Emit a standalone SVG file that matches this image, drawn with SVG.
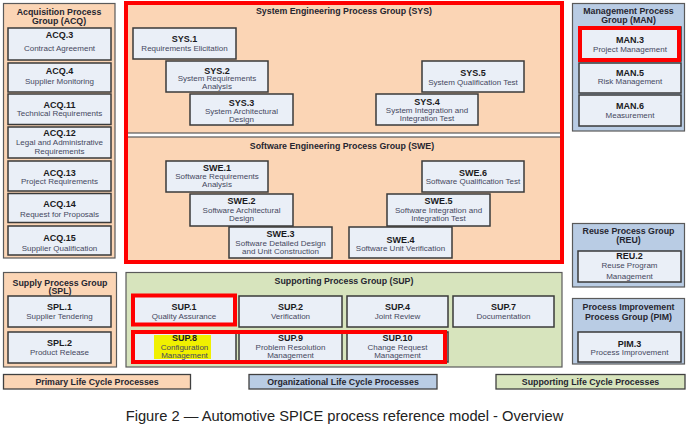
<svg xmlns="http://www.w3.org/2000/svg" width="690" height="427" viewBox="0 0 690 427">
<style>
  text { font-family: "Liberation Sans", Arial, sans-serif; text-anchor: middle; }
  .peach { fill: #FBD5B5; stroke: #5A5A5A; stroke-width: 1.2; }
  .blue { fill: #B9CCE4; stroke: #5A5A5A; stroke-width: 1.2; }
  .green { fill: #D7E4BD; stroke: #5A5A5A; stroke-width: 1.2; }
  .box { fill: #EAEFF7; stroke: #3A3A3A; stroke-width: 1.5; }
  .hl { fill: none; stroke: #FF0000; stroke-width: 4; }
  .leg { stroke: #404040; stroke-width: 1.3; }
  .t { font-size: 8.8px; font-weight: bold; fill: #262630; }
  .id { font-size: 9px; font-weight: bold; fill: #1A1A22; }
  .d { font-size: 8px; fill: #454860; }
  .cap { font-size: 14.7px; fill: #222222; }
</style>

<!-- Acquisition group -->
<g id="acq">
  <rect class="peach" x="3.5" y="3.5" width="111.5" height="254.5"/>
  <text class="t" x="59" y="14.5">Acquisition Process</text>
  <text class="t" x="59" y="23.5">Group (ACQ)</text>
</g>
<g id="acq3"><rect class="box" x="8" y="28" width="103" height="32"/><text class="id" x="59.5" y="37.5">ACQ.3</text><text class="d" x="59.5" y="50.5">Contract Agreement</text></g>
<g id="acq4"><rect class="box" x="8" y="63" width="103" height="29"/><text class="id" x="59.5" y="74">ACQ.4</text><text class="d" x="59.5" y="84">Supplier Monitoring</text></g>
<g id="acq11"><rect class="box" x="8" y="94" width="103" height="30.5"/><text class="id" x="59.5" y="107.5">ACQ.11</text><text class="d" x="59.5" y="116">Technical Requirements</text></g>
<g id="acq12"><rect class="box" x="8" y="127" width="103" height="31"/><text class="id" x="59.5" y="135.5">ACQ.12</text><text class="d" x="59.5" y="145">Legal and Administrative</text><text class="d" x="59.5" y="153.5">Requirements</text></g>
<g id="acq13"><rect class="box" x="8" y="161" width="103" height="30"/><text class="id" x="59.5" y="175.5">ACQ.13</text><text class="d" x="59.5" y="184">Project Requirements</text></g>
<g id="acq14"><rect class="box" x="8" y="193.5" width="103" height="29"/><text class="id" x="59.5" y="206.5">ACQ.14</text><text class="d" x="59.5" y="216.5">Request for Proposals</text></g>
<g id="acq15"><rect class="box" x="8" y="226" width="103" height="29"/><text class="id" x="59.5" y="240.5">ACQ.15</text><text class="d" x="59.5" y="251">Supplier Qualification</text></g>

<!-- System Engineering group -->
<g id="sys">
  <rect class="peach" x="126" y="3" width="436" height="130"/>
  <text class="t" x="344" y="14">System Engineering Process Group (SYS)</text>
</g>
<g id="sys1"><rect class="box" x="133" y="28" width="103" height="31"/><text class="id" x="184.5" y="41.5">SYS.1</text><text class="d" x="184.5" y="50.5">Requirements Elicitation</text></g>
<g id="sys2"><rect class="box" x="166" y="61" width="102" height="31"/><text class="id" x="217" y="73.5">SYS.2</text><text class="d" x="217" y="81">System Requirements</text><text class="d" x="217" y="88.5">Analysis</text></g>
<g id="sys3"><rect class="box" x="190" y="94" width="103" height="31"/><text class="id" x="241.5" y="105.5">SYS.3</text><text class="d" x="241.5" y="113.5">System Architectural</text><text class="d" x="241.5" y="121.5">Design</text></g>
<g id="sys5"><rect class="box" x="422" y="61" width="102" height="31"/><text class="id" x="473" y="76">SYS.5</text><text class="d" x="473" y="84.5">System Qualification Test</text></g>
<g id="sys4"><rect class="box" x="376" y="94" width="102" height="31"/><text class="id" x="427" y="104.5">SYS.4</text><text class="d" x="427" y="113">System Integration and</text><text class="d" x="427" y="121">Integration Test</text></g>

<!-- Software Engineering group -->
<g id="swe">
  <rect class="peach" x="126" y="137" width="436" height="125"/>
  <text class="t" x="342" y="148.5">Software Engineering Process Group (SWE)</text>
</g>
<g id="swe1"><rect class="box" x="166" y="161" width="102" height="31"/><text class="id" x="217" y="170.5">SWE.1</text><text class="d" x="217" y="179">Software Requirements</text><text class="d" x="217" y="187">Analysis</text></g>
<g id="swe2"><rect class="box" x="190" y="194" width="103" height="32"/><text class="id" x="241.5" y="204">SWE.2</text><text class="d" x="241.5" y="212.5">Software Architectural</text><text class="d" x="241.5" y="221">Design</text></g>
<g id="swe3"><rect class="box" x="229" y="227" width="103" height="31"/><text class="id" x="280.5" y="237">SWE.3</text><text class="d" x="280.5" y="245.5">Software Detailed Design</text><text class="d" x="280.5" y="254">and Unit Construction</text></g>
<g id="swe6"><rect class="box" x="422" y="161" width="102" height="31"/><text class="id" x="473" y="176">SWE.6</text><text class="d" x="473" y="184">Software Qualification Test</text></g>
<g id="swe5"><rect class="box" x="387" y="194" width="103" height="32"/><text class="id" x="438.5" y="204">SWE.5</text><text class="d" x="438.5" y="212.5">Software Integration and</text><text class="d" x="438.5" y="221">Integration Test</text></g>
<g id="swe4"><rect class="box" x="349" y="227" width="103" height="31"/><text class="id" x="400.5" y="242.5">SWE.4</text><text class="d" x="400.5" y="250.5">Software Unit Verification</text></g>

<!-- Management group -->
<g id="man">
  <rect class="blue" x="572.5" y="3.5" width="112" height="127.5"/>
  <text class="t" x="628.5" y="14">Management Process</text>
  <text class="t" x="628.5" y="23">Group (MAN)</text>
</g>
<g id="man3"><rect class="box" x="579" y="27" width="102" height="34"/><text class="id" x="630" y="43">MAN.3</text><text class="d" x="630" y="51.5">Project Management</text></g>
<g id="man5"><rect class="box" x="579" y="63" width="102" height="30"/><text class="id" x="630" y="76">MAN.5</text><text class="d" x="630" y="84">Risk Management</text></g>
<g id="man6"><rect class="box" x="579" y="95" width="102" height="31"/><text class="id" x="630" y="108.5">MAN.6</text><text class="d" x="630" y="118">Measurement</text></g>

<!-- Reuse group -->
<g id="reu">
  <rect class="blue" x="572.5" y="223.5" width="112" height="63.5"/>
  <text class="t" x="628.5" y="234">Reuse Process Group</text>
  <text class="t" x="628.5" y="243">(REU)</text>
</g>
<g id="reu2"><rect class="box" x="578" y="251" width="103" height="31"/><text class="id" x="629.5" y="258.5">REU.2</text><text class="d" x="629.5" y="268">Reuse Program</text><text class="d" x="629.5" y="278.5">Management</text></g>

<!-- Process Improvement group -->
<g id="pim">
  <rect class="blue" x="572.5" y="298.5" width="112" height="65.5"/>
  <text class="t" x="628.5" y="309.5">Process Improvement</text>
  <text class="t" x="628.5" y="319.5">Process Group (PIM)</text>
</g>
<g id="pim3"><rect class="box" x="578" y="332" width="103" height="30"/><text class="id" x="629.5" y="346.5">PIM.3</text><text class="d" x="629.5" y="354.5">Process Improvement</text></g>

<!-- Supply group -->
<g id="spl">
  <rect class="peach" x="3.5" y="272.5" width="113" height="94.5"/>
  <text class="t" x="60" y="285.5">Supply Process Group</text>
  <text class="t" x="60" y="294">(SPL)</text>
</g>
<g id="spl1"><rect class="box" x="8" y="296" width="103" height="31"/><text class="id" x="59.5" y="310">SPL.1</text><text class="d" x="59.5" y="318.5">Supplier Tendering</text></g>
<g id="spl2"><rect class="box" x="8" y="332" width="103" height="31"/><text class="id" x="59.5" y="346">SPL.2</text><text class="d" x="59.5" y="355">Product Release</text></g>

<!-- Supporting group -->
<g id="sup">
  <rect class="green" x="126" y="272.5" width="436" height="94.5"/>
  <text class="t" x="344" y="284">Supporting Process Group (SUP)</text>
</g>
<g id="sup1"><rect class="box" x="132" y="296" width="104" height="28"/><text class="id" x="184" y="310">SUP.1</text><text class="d" x="184" y="318.5">Quality Assurance</text></g>
<g id="sup2"><rect class="box" x="239" y="296" width="103" height="31"/><text class="id" x="290.5" y="310">SUP.2</text><text class="d" x="290.5" y="318.5">Verification</text></g>
<g id="sup4"><rect class="box" x="347" y="296" width="101" height="31"/><text class="id" x="397.5" y="310">SUP.4</text><text class="d" x="397.5" y="318.5">Joint Review</text></g>
<g id="sup7"><rect class="box" x="453" y="296" width="101" height="31"/><text class="id" x="503.5" y="310">SUP.7</text><text class="d" x="503.5" y="318.5">Documentation</text></g>
<g id="sup8"><rect class="box" x="133" y="332" width="103" height="30"/><rect x="154" y="335" width="57" height="24" fill="#F0F000"/><text class="id" x="184.5" y="341">SUP.8</text><text class="d" x="184.5" y="350">Configuration</text><text class="d" x="184.5" y="358">Management</text></g>
<g id="sup9"><rect class="box" x="239" y="332" width="103" height="30"/><text class="id" x="290.5" y="341">SUP.9</text><text class="d" x="290.5" y="350">Problem Resolution</text><text class="d" x="290.5" y="358">Management</text></g>
<g id="sup10"><rect class="box" x="347" y="332" width="101" height="30"/><text class="id" x="397.5" y="341">SUP.10</text><text class="d" x="397.5" y="350">Change Request</text><text class="d" x="397.5" y="358">Management</text></g>

<!-- Red highlight frames -->
<g id="highlights">
  <rect class="hl" x="126" y="3" width="436" height="259"/>
  <rect class="hl" x="580" y="28" width="99" height="32"/>
  <rect class="hl" x="133" y="295.5" width="102" height="29"/>
  <rect class="hl" x="133" y="332" width="312" height="30"/>
</g>

<!-- Legend -->
<g id="legend-primary"><rect class="peach leg" x="3.5" y="374.5" width="187" height="14.5"/><text class="t" x="97" y="385">Primary Life Cycle Processes</text></g>
<g id="legend-organizational"><rect class="blue leg" x="249" y="374.5" width="188" height="14.5"/><text class="t" x="343" y="385">Organizational Life Cycle Processes</text></g>
<g id="legend-supporting"><rect class="green leg" x="496" y="374.5" width="189" height="14.5"/><text class="t" x="590.5" y="385">Supporting Life Cycle Processes</text></g>

<g id="caption"><text class="cap" x="344.5" y="421">Figure 2 — Automotive SPICE process reference model - Overview</text></g>
</svg>
